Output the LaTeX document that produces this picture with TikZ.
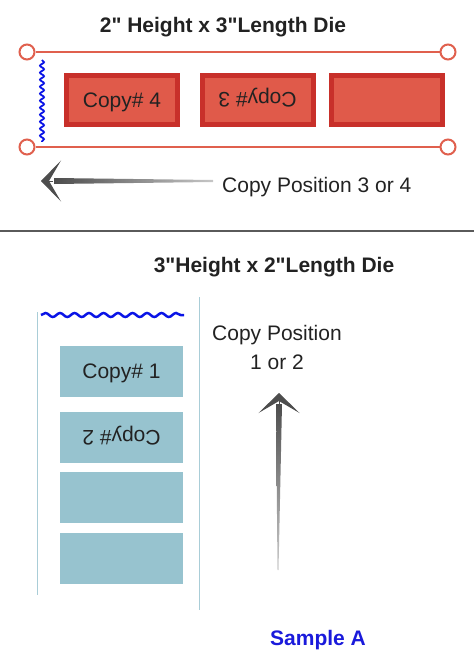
\documentclass[tikz,border=0pt]{standalone}
\usepackage{fontspec}
\setmainfont{Liberation Sans}[Ligatures=TeXOff]
\usetikzlibrary{positioning,arrows.meta,decorations.pathmorphing,calc}
\definecolor{ink}{HTML}{222222}
\definecolor{railred}{HTML}{E0604E}
\definecolor{redfill}{HTML}{E05A4A}
\definecolor{redline}{HTML}{C8302A}
\definecolor{bluefill}{HTML}{97C3CF}
\definecolor{blueline}{HTML}{A9CDD7}
\definecolor{waveblue}{HTML}{0A14E6}
\definecolor{sampleblue}{HTML}{1A1ADB}
\definecolor{arrowgray}{HTML}{4D4D4D}
\definecolor{rulegray}{HTML}{5A5A5A}

\begin{document}
\begin{tikzpicture}[x=1pt,y=-1pt,
    txt/.style={font=\fontsize{21}{25}\selectfont,text=ink,inner sep=0pt},
    ttl/.style={txt,font=\fontsize{21}{25}\selectfont\bfseries},
    pin/.style={circle,draw=railred,line width=2pt,fill=white,minimum size=15pt,inner sep=0pt},
    rail/.style={draw=railred,line width=2.5pt},
    boxtxt/.style={txt,text height=15pt,text depth=0pt},
    redbox/.style={boxtxt,draw=redline,fill=redfill,line width=5pt,minimum width=111pt,minimum height=49pt},
    bluebox/.style={boxtxt,fill=bluefill,minimum width=123pt,minimum height=51pt},
    edge/.style={draw=blueline,line width=1pt},
    wave/.style={draw=waveblue,line width=2.5pt,decorate},
    tip/.style={-{Stealth[length=20pt,width=41pt,inset=12pt]},draw=arrowgray,line width=1pt}]
  \useasboundingbox (0,0) rectangle (474,663);
  % top: 2" x 3" die
  \node[ttl] (ttop) at (223,27) {2" Height x 3"Length Die};
  \node[pin] (tl) at (27,52) {}; \node[pin] (tr) at (448,52) {};
  \node[pin] (bl) at (27,147) {}; \node[pin] (br) at (448,147) {};
  \draw[rail] (tl)--(tr); \draw[rail] (bl)--(br);
  \coordinate (wv1) at (42,60); \coordinate (wv2) at (42,142);
  \draw[wave,line width=1.8pt,decoration={snake,amplitude=2pt,segment length=7pt}] (wv1)--(wv2);
  \node[redbox] (c4) at (122,100) {Copy\# 4};
  \node[redbox,rotate=180] (c3) at (257.5,100) {Copy\# 3};
  \node[redbox] (cx) at (387,100) {};
  \coordinate (hA) at (213,181); \coordinate (hB) at (41,181);
  \shade[left color=arrowgray,right color=gray!45] (213,180)--(213,182)--(54,184)--(54,178)--cycle;
  \draw[tip] ($(hB)+(12,0)$)--(hB);
  \node[txt,anchor=west] (cp34) at (222,187) {Copy Position 3 or 4};
  \coordinate (sl) at (0,231); \coordinate (sr) at (474,231);
  \draw[draw=rulegray,line width=2.5pt] (sl)--(sr);
  % bottom: 3" x 2" die
  \node[ttl] (tbot) at (274,267) {3"Height x 2"Length Die};
  \coordinate (el1) at (37,312); \coordinate (el2) at (37,595);
  \coordinate (er1) at (199,297); \coordinate (er2) at (199,610);
  \draw[edge] (el1)--(el2); \draw[edge] (er1)--(er2);
  \coordinate (wh1) at (41,315); \coordinate (wh2) at (184,315);
  \draw[wave,decoration={snake,amplitude=2pt,segment length=14.5pt}] (wh1)--(wh2);
  \node[bluebox] (c1) at (121.5,371) {Copy\# 1};
  \node[bluebox,rotate=180] (c2) at (121.5,437.5) {Copy\# 2};
  \node[bluebox] (cy) at (121.5,497) {};
  \node[bluebox] (cz) at (121.5,558.5) {};
  \node[txt,align=center] (cp12) at (277,347.5) {Copy Position\\[4pt]1 or 2};
  \coordinate (vA) at (278,570); \coordinate (vB) at (279,393);
  \shade[top color=arrowgray,bottom color=gray!40] (277.5,570)--(278.5,570)--(282,404)--(276,404)--cycle;
  \draw[tip] ($(vB)+(0,12)$)--(vB);
  \node[ttl,text=sampleblue] (sample) at (318,640) {Sample A};
\end{tikzpicture}
\end{document}
